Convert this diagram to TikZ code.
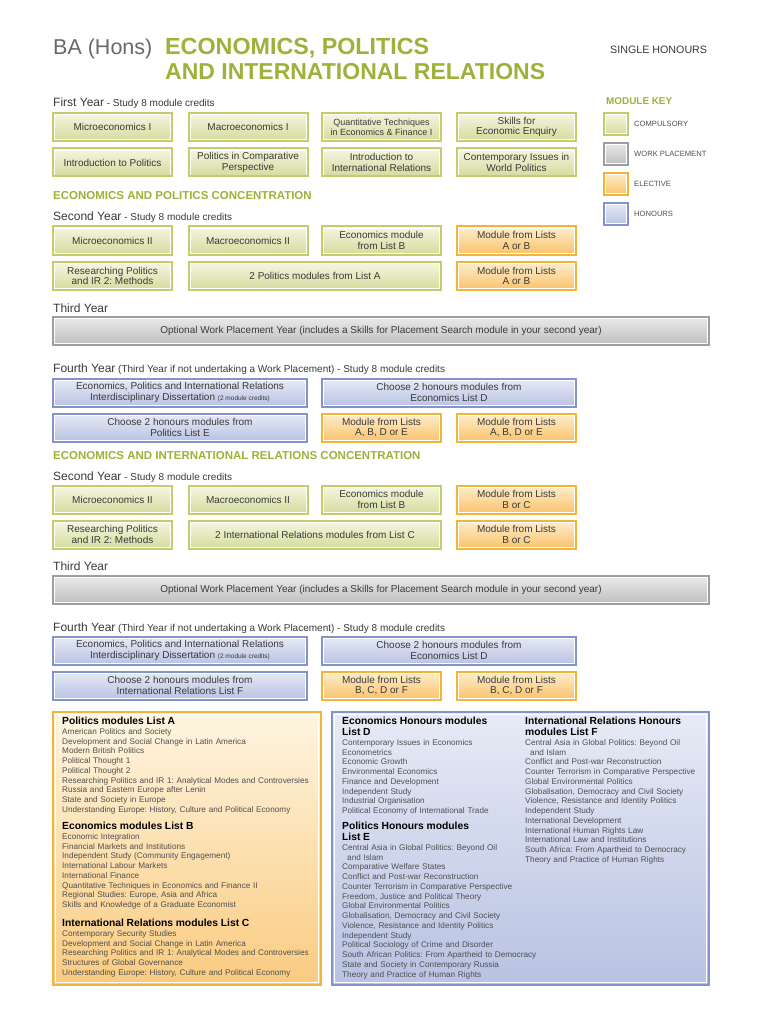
\documentclass[tikz,border=0pt]{standalone}
\usepackage{fontspec}
\setmainfont{Liberation Sans}
\usetikzlibrary{positioning}
\frenchspacing
\definecolor{eprgreen}{RGB}{156,178,58}
\definecolor{eprgrey}{RGB}{105,105,105}
\definecolor{eprtext}{RGB}{58,58,58}
\definecolor{eprlist}{RGB}{80,80,80}
\definecolor{compline}{RGB}{196,204,108}
\definecolor{comptop}{RGB}{245,247,226}
\definecolor{compbot}{RGB}{212,219,156}
\definecolor{elecline}{RGB}{243,180,58}
\definecolor{electop}{RGB}{254,238,206}
\definecolor{elecbot}{RGB}{249,194,106}
\definecolor{honsline}{RGB}{130,148,203}
\definecolor{honstop}{RGB}{231,235,246}
\definecolor{honsbot}{RGB}{184,194,226}
\definecolor{workline}{RGB}{158,158,158}
\definecolor{worktop}{RGB}{234,234,234}
\definecolor{workbot}{RGB}{190,190,190}

\newcommand{\listhead}[1]{{\fontsize{10.3}{11}\selectfont\bfseries\color{black}#1\par}}

\tikzset{
  modbox/.style={rectangle, inner sep=0pt, minimum height=28pt, align=center,
    line width=2pt, text=eprtext, font=\fontsize{10}{10.5}\selectfont,
    path picture={\draw[white, line width=0.7pt]
      ([shift={(1.5pt,1.5pt)}]path picture bounding box.south west) rectangle
      ([shift={(-1.5pt,-1.5pt)}]path picture bounding box.north east);}},
  comp/.style={modbox, draw=compline, top color=comptop, bottom color=compbot},
  elec/.style={modbox, draw=elecline, top color=electop, bottom color=elecbot},
  hons/.style={modbox, draw=honsline, top color=honstop, bottom color=honsbot},
  work/.style={modbox, draw=workline, top color=worktop, bottom color=workbot},
  narrow/.style={minimum width=119pt},
  wide/.style={minimum width=254pt},
  keybox/.style={minimum width=24pt, minimum height=22pt},
  keylbl/.style={font=\fontsize{7.6}{9}\selectfont, text=eprlist, inner sep=0pt},
  yearlbl/.style={anchor=base west, inner sep=0pt, text=eprtext},
  conclbl/.style={anchor=base west, inner sep=0pt, text=eprgreen,
    font=\fontsize{11.5}{13}\selectfont\bfseries},
  listblk/.style={anchor=north west, inner sep=0pt, align=left, text=eprlist,
    font=\fontsize{8.2}{9.75}\selectfont}
}

\begin{document}
\begin{tikzpicture}[x=1pt, y=-1pt]
\fill[white] (0,0) rectangle (768,1024);
\useasboundingbox (0,0) rectangle (768,1024);

% title
\node[anchor=base west, inner sep=0pt, text=eprgrey, font=\fontsize{21.5}{24}\selectfont]
  (ba) at (53,55) {BA (Hons)};
\node[anchor=base west, inner sep=0pt, text=eprgreen, font=\fontsize{23.3}{26}\selectfont\bfseries]
  (title1) at (165,55) {ECONOMICS, POLITICS};
\node[anchor=base west, inner sep=0pt, text=eprgreen, font=\fontsize{23}{26}\selectfont\bfseries]
  (title2) at (165,80) {AND INTERNATIONAL RELATIONS};
\node[anchor=base west, inner sep=0pt, text=eprtext, font=\fontsize{10.7}{12}\selectfont]
  (single) at (610,54) {SINGLE HONOURS};

% module key
\node[anchor=base west, inner sep=0pt, text=eprgreen, font=\fontsize{9.9}{11}\selectfont\bfseries]
  (keyhd) at (606,105) {MODULE KEY};
\node[comp, keybox] (keycomp) at (616,124) {};
\node[work, keybox] (keywork) at (616,154) {};
\node[elec, keybox] (keyelec) at (616,184) {};
\node[hons, keybox] (keyhons) at (616,214) {};
\node[keylbl, right=5pt of keycomp] (lblcomp) {COMPULSORY};
\node[keylbl, right=5pt of keywork] (lblwork) {WORK PLACEMENT};
\node[keylbl, right=5pt of keyelec] (lblelec) {ELECTIVE};
\node[keylbl, right=5pt of keyhons] (lblhons) {HONOURS};

% first year
\node[yearlbl] (yr1) at (53,107) {\fontsize{12}{14}\selectfont First Year\fontsize{10}{12}\selectfont\ - Study 8 module credits};
\node[comp, narrow] (micro1) at (112.5,127) {Microeconomics I};
\node[comp, narrow] (macro1) at (248,127) {Macroeconomics I};
\node[comp, narrow, font=\fontsize{9}{9.8}\selectfont] (quant1) at (381.5,127) {Quantitative Techniques\\in Economics \& Finance I};
\node[comp, narrow] (skills1) at (516.5,127) {Skills for\\Economic Enquiry};
\node[comp, narrow] (intpol) at (112.5,162.5) {Introduction to Politics};
\node[comp, narrow] (comppol) at (248,162.5) {Politics in Comparative\\Perspective};
\node[comp, narrow] (intir) at (381.5,162.5) {Introduction to\\International Relations};
\node[comp, narrow] (contwp) at (516.5,162.5) {Contemporary Issues in\\World Politics};

% economics and politics
\node[conclbl] (concep) at (53,200) {ECONOMICS AND POLITICS CONCENTRATION};
\node[yearlbl] (yr2ep) at (53,221) {\fontsize{12}{14}\selectfont Second Year\fontsize{10}{12}\selectfont\ - Study 8 module credits};
\node[comp, narrow] (micro2ep) at (112.5,240.5) {Microeconomics II};
\node[comp, narrow] (macro2ep) at (248,240.5) {Macroeconomics II};
\node[comp, narrow] (ecob_ep) at (381.5,240.5) {Economics module\\from List B};
\node[elec, narrow] (ab1) at (516.5,240.5) {Module from Lists\\A or B};
\node[comp, narrow] (resep) at (112.5,276) {Researching Politics\\and IR 2: Methods};
\node[comp, minimum width=252pt] (pola) at (315,276) {2 Politics modules from List A};
\node[elec, narrow] (ab2) at (516.5,276) {Module from Lists\\A or B};
\node[yearlbl] (yr3ep) at (53,312) {\fontsize{12}{14}\selectfont Third Year};
\node[work, minimum width=656pt] (workep) at (381,331) {Optional Work Placement Year (includes a Skills for Placement Search module in your second year)};
\node[yearlbl] (yr4ep) at (53,372) {\fontsize{12}{14}\selectfont Fourth Year\fontsize{10}{12}\selectfont\ (Third Year if not undertaking a Work Placement) - Study 8 module credits};
\node[hons, wide] (dissep) at (180,392.5) {Economics, Politics and International Relations\\Interdisciplinary Dissertation {\fontsize{6.5}{7}\selectfont(2 module credits)}};
\node[hons, wide] (listdep) at (449,392.5) {Choose 2 honours modules from\\Economics List D};
\node[hons, wide] (liste) at (180,427.5) {Choose 2 honours modules from\\Politics List E};
\node[elec, narrow] (abde1) at (381.5,427.5) {Module from Lists\\A, B, D or E};
\node[elec, narrow] (abde2) at (516.5,427.5) {Module from Lists\\A, B, D or E};

% economics and international relations
\node[conclbl] (concir) at (53,459) {ECONOMICS AND INTERNATIONAL RELATIONS CONCENTRATION};
\node[yearlbl] (yr2ir) at (53,480) {\fontsize{12}{14}\selectfont Second Year\fontsize{10}{12}\selectfont\ - Study 8 module credits};
\node[comp, narrow] (micro2ir) at (112.5,499.5) {Microeconomics II};
\node[comp, narrow] (macro2ir) at (248,499.5) {Macroeconomics II};
\node[comp, narrow] (ecob_ir) at (381.5,499.5) {Economics module\\from List B};
\node[elec, narrow] (bc1) at (516.5,499.5) {Module from Lists\\B or C};
\node[comp, narrow] (resir) at (112.5,534.5) {Researching Politics\\and IR 2: Methods};
\node[comp, minimum width=252pt] (irc) at (315,534.5) {2 International Relations modules from List C};
\node[elec, narrow] (bc2) at (516.5,534.5) {Module from Lists\\B or C};
\node[yearlbl] (yr3ir) at (53,570) {\fontsize{12}{14}\selectfont Third Year};
\node[work, minimum width=656pt] (workir) at (381,590) {Optional Work Placement Year (includes a Skills for Placement Search module in your second year)};
\node[yearlbl] (yr4ir) at (53,631) {\fontsize{12}{14}\selectfont Fourth Year\fontsize{10}{12}\selectfont\ (Third Year if not undertaking a Work Placement) - Study 8 module credits};
\node[hons, wide] (dissir) at (180,650.5) {Economics, Politics and International Relations\\Interdisciplinary Dissertation {\fontsize{6.5}{7}\selectfont(2 module credits)}};
\node[hons, wide] (listdir) at (449,650.5) {Choose 2 honours modules from\\Economics List D};
\node[hons, wide] (listf) at (180,685.5) {Choose 2 honours modules from\\International Relations List F};
\node[elec, narrow] (bcdf1) at (381.5,685.5) {Module from Lists\\B, C, D or F};
\node[elec, narrow] (bcdf2) at (516.5,685.5) {Module from Lists\\B, C, D or F};

% module lists
\draw[draw=elecline, line width=2pt, top color=electop!60, bottom color=elecbot!85]
  (53,712) rectangle (321,985);
\draw[white, line width=0.7pt] (55.5,714.5) rectangle (318.5,982.5);
\draw[draw=honsline, line width=2pt, top color=honstop, bottom color=honsbot]
  (332,712) rectangle (709,985);
\draw[white, line width=0.7pt] (334.5,714.5) rectangle (706.5,982.5);

\node[listblk, text width=255pt] (lista) at (62,717) {\listhead{Politics modules List A}
American Politics and Society\\
Development and Social Change in Latin America\\
Modern British Politics\\
Political Thought 1\\
Political Thought 2\\
Researching Politics and IR 1: Analytical Modes and Controversies\\
Russia and Eastern Europe after Lenin\\
State and Society in Europe\\
Understanding Europe: History, Culture and Political Economy};
\node[listblk, text width=255pt] (listb) at (62,822) {\listhead{Economics modules List B}
Economic Integration\\
Financial Markets and Institutions\\
Independent Study (Community Engagement)\\
International Labour Markets\\
International Finance\\
Quantitative Techniques in Economics and Finance II\\
Regional Studies: Europe, Asia and Africa\\
Skills and Knowledge of a Graduate Economist};
\node[listblk, text width=255pt] (listc) at (62,919) {\listhead{International Relations modules List C}
Contemporary Security Studies\\
Development and Social Change in Latin America\\
Researching Politics and IR 1: Analytical Modes and Controversies\\
Structures of Global Governance\\
Understanding Europe: History, Culture and Political Economy};

\node[listblk, text width=180pt] (listdd) at (342,717) {\listhead{Economics Honours modules\\List D}
Contemporary Issues in Economics\\
Econometrics\\
Economic Growth\\
Environmental Economics\\
Finance and Development\\
Independent Study\\
Industrial Organisation\\
Political Economy of International Trade};
\node[listblk, text width=240pt] (listee) at (342,822) {\listhead{Politics Honours modules\\List E}
Central Asia in Global Politics: Beyond Oil\\
\hspace*{5pt}and Islam\\
Comparative Welfare States\\
Conflict and Post-war Reconstruction\\
Counter Terrorism in Comparative Perspective\\
Freedom, Justice and Political Theory\\
Global Environmental Politics\\
Globalisation, Democracy and Civil Society\\
Violence, Resistance and Identity Politics\\
Independent Study\\
Political Sociology of Crime and Disorder\\
South African Politics: From Apartheid to Democracy\\
State and Society in Contemporary Russia\\
Theory and Practice of Human Rights};
\node[listblk, text width=180pt] (listff) at (525,717) {\listhead{International Relations Honours\\modules List F}
Central Asia in Global Politics: Beyond Oil\\
\hspace*{5pt}and Islam\\
Conflict and Post-war Reconstruction\\
Counter Terrorism in Comparative Perspective\\
Global Environmental Politics\\
Globalisation, Democracy and Civil Society\\
Violence, Resistance and Identity Politics\\
Independent Study\\
International Development\\
International Human Rights Law\\
International Law and Institutions\\
South Africa: From Apartheid to Democracy\\
Theory and Practice of Human Rights};
\end{tikzpicture}
\end{document}
